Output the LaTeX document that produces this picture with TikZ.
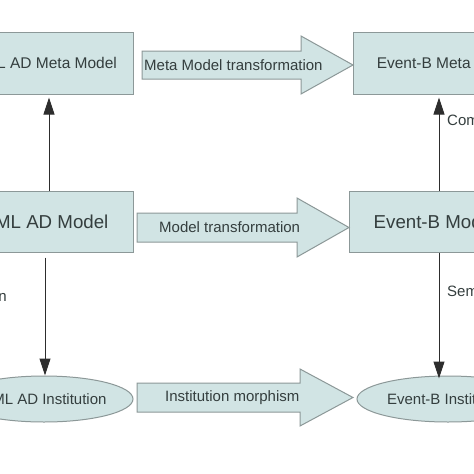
\documentclass[tikz,border=0pt]{standalone}
\usepackage{fontspec}
\setmainfont{Liberation Sans}
\usetikzlibrary{arrows.meta,shapes.geometric}
\definecolor{boxfill}{RGB}{209,228,228}
\definecolor{boxline}{RGB}{140,152,152}
\definecolor{txt}{RGB}{52,62,62}
\definecolor{arr}{RGB}{45,45,45}
\begin{document}
\begin{tikzpicture}[x=1pt,y=-1pt,
  fs/.style={font=\fontsize{#1}{#1}\selectfont},
  box/.style={draw=boxline, fill=boxfill, line width=1pt, rectangle, inner sep=0pt, text=txt},
  oval/.style={draw=boxline, fill=boxfill, line width=1pt, ellipse, inner sep=0pt, text=txt},
  blockarrow/.style={draw=boxline, fill=boxfill, line width=1pt, line join=miter},
  lbl/.style={text=txt, inner sep=0pt},
  conn/.style={draw=arr, line width=1pt, -{Triangle[length=17pt,width=11pt]}}]
\useasboundingbox (0,0) rectangle (474,474);
\clip (0,0) rectangle (474,474);
\fill[white] (0,0) rectangle (474,474);

% boxes
\node[box, minimum width=176pt, minimum height=62pt, fs=15.5] (lt) at (45,63) {UML AD Meta Model};
\node[box, minimum width=188pt, minimum height=62pt, fs=15.5] (rt) at (447,63) {Event-B Meta Model};
\node[box, minimum width=176pt, minimum height=61pt, fs=18.7] (lm) at (45,221.5) {UML AD Model};
\node[box, minimum width=172pt, minimum height=61pt, fs=18.7] (rm) at (435,221.5) {Event-B Model};
\node[oval, minimum width=178pt, minimum height=46pt, fs=15] (lb) at (44,399) {UML AD Institution};
\node[oval, minimum width=182pt, minimum height=46pt, fs=15] (rb) at (448,399) {Event-B Institution};

% block arrows
\draw[blockarrow] (142,51) -- (301,51) -- (301,36) -- (353,65) -- (301,94) -- (301,79) -- (142,79) -- cycle;
\node[lbl, fs=15, anchor=west] (t1) at (144,65) {Meta Model transformation};
\draw[blockarrow] (137,213) -- (297,213) -- (297,198) -- (349,227.5) -- (297,257) -- (297,242) -- (137,242) -- cycle;
\node[lbl, fs=15, anchor=west] (t2) at (159,227.5) {Model transformation};
\draw[blockarrow] (137,383) -- (300,383) -- (300,369) -- (353,397.5) -- (300,426) -- (300,412) -- (137,412) -- cycle;
\node[lbl, fs=15, anchor=west] (t3) at (165,397.5) {Institution morphism};

% connectors
\coordinate (xa) at (49,0);
\coordinate (xb) at (45,0);
\coordinate (xr) at (439,0);
\draw[conn, shorten >=3pt] (lm.north -| xa) -- (lt.south -| xa);
\draw[conn, shorten <=5pt] (lm.south -| xb) -- (lb.north -| xb);
\draw[conn, shorten >=3pt] (rm.north -| xr) -- (rt.south -| xr);
\draw[conn, shorten >=-3pt] (rm.south -| xr) -- (rb.north -| xr);

% labels
\node[lbl, fs=15, anchor=west] (l1) at (447,122) {Compliance};
\node[lbl, fs=15, anchor=west] (l2) at (447,291) {Semantics};
\node[lbl, fs=15, anchor=east] (l3) at (7,296) {Semantic function};
\end{tikzpicture}
\end{document}
